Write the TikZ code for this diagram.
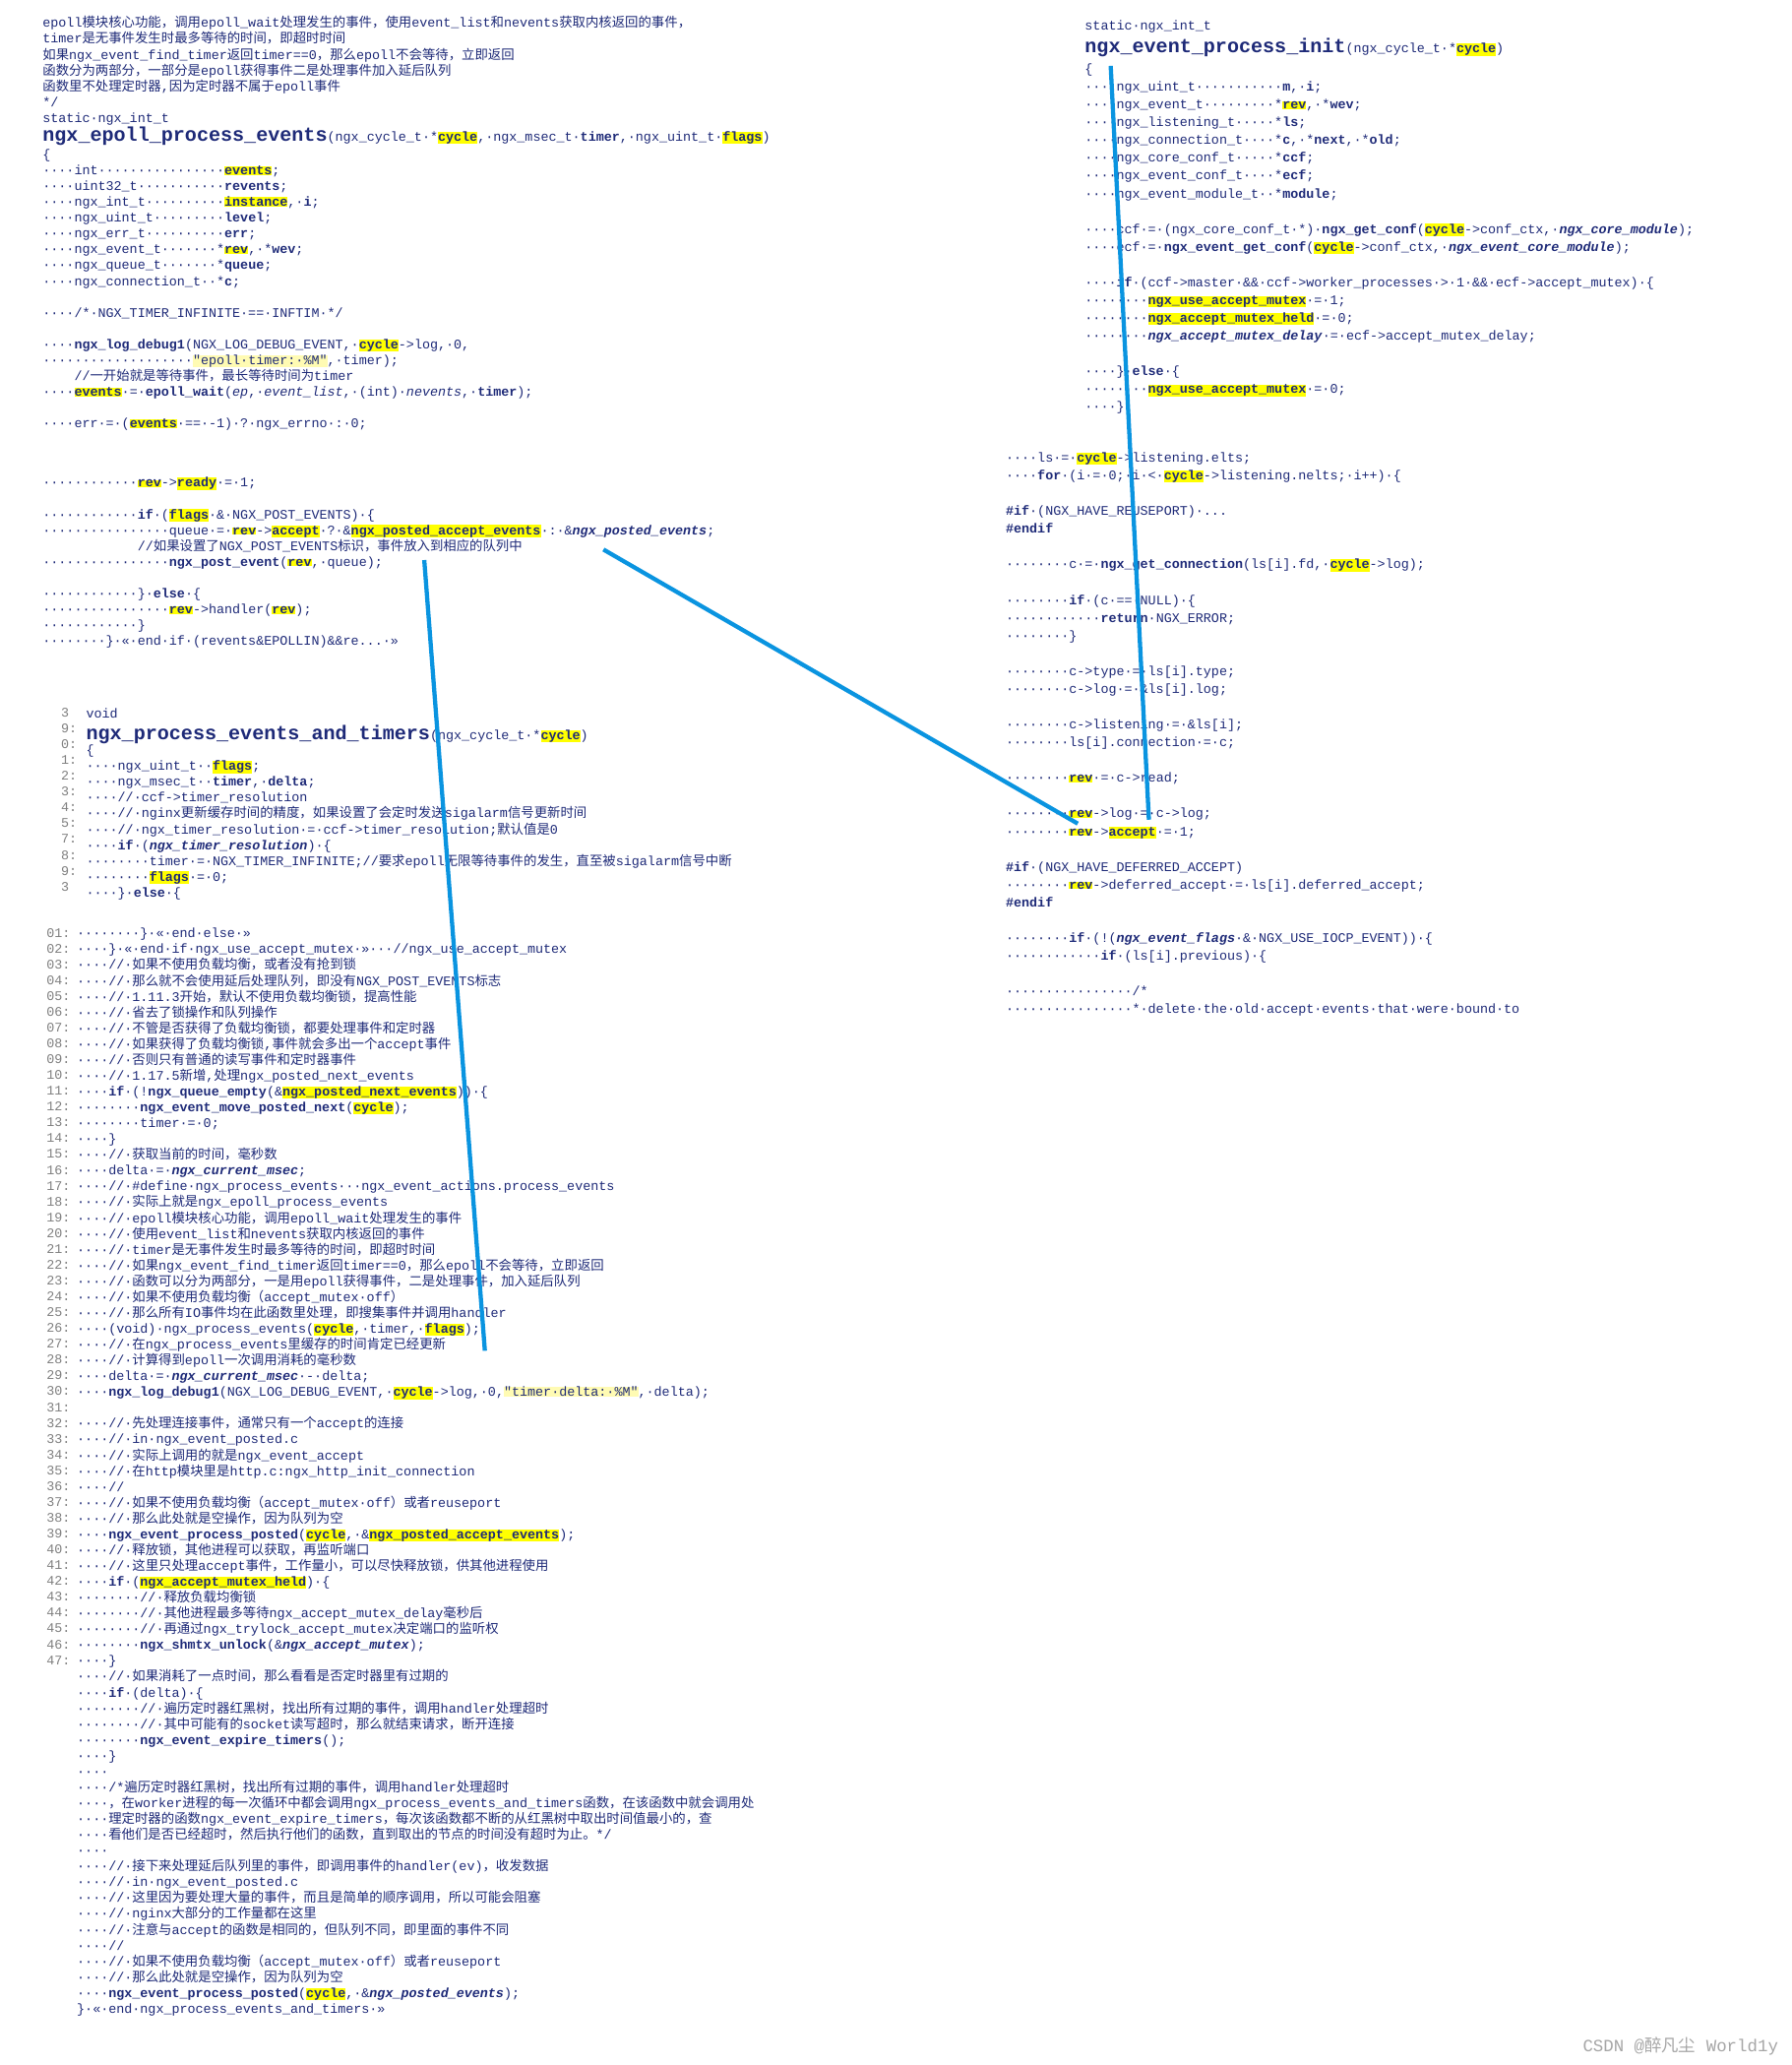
\documentclass[tikz,border=0pt]{standalone}
\usepackage{fontspec}
\usepackage{xcolor}
\newfontfamily\code{Liberation Mono}
\newfontfamily\cjkfont{Noto Sans CJK SC}
\definecolor{codecol}{HTML}{1E2A78}
\definecolor{linkblue}{HTML}{0A94E0}
\definecolor{hly}{HTML}{FFFF00}
\setlength{\fboxsep}{0pt}
\newcommand\hl[1]{\colorbox{hly}{\textbf{#1}}}
\newcommand\kw[1]{\textbf{#1}}
\newcommand\fname[1]{{\fontsize{7.5}{8}\selectfont\textbf{#1}}}
\XeTeXinterchartokenstate=1
\newXeTeXintercharclass\CJKclass
\count255="4E00 \loop \XeTeXcharclass\count255=\CJKclass \advance\count255 1 \ifnum\count255<"A000 \repeat
\count255="3000 \loop \XeTeXcharclass\count255=\CJKclass \advance\count255 1 \ifnum\count255<"3040 \repeat
\count255="FF00 \loop \XeTeXcharclass\count255=\CJKclass \advance\count255 1 \ifnum\count255<"FFF0 \repeat
\XeTeXinterchartoks 0 \CJKclass = {\cjkfont}
\XeTeXinterchartoks 4095 \CJKclass = {\cjkfont}
\XeTeXinterchartoks \CJKclass 0 = {\code}
\XeTeXinterchartoks \CJKclass 4095 = {\code}
\tikzset{
 code/.style={anchor=north west, inner sep=0pt, align=left, text=codecol,
   font=\code\fontsize{5}{6}\selectfont},
 codew/.style={code, font=\code\fontsize{5}{6.75}\selectfont},
 nums/.style={code, text=gray},
 link/.style={draw=linkblue, line width=1.6pt},
}
\begin{document}
\catcode`\_=12 \catcode`\&=12
\begin{tikzpicture}[x=0.5pt,y=-0.5pt]
\useasboundingbox (0,0) rectangle (1360,1567);
\fill[white] (0,0) rectangle (1360,1567);

% ---------- block A: epoll header
\node[code] (a1) at (32,12) {epoll模块核心功能，调用epoll_wait处理发生的事件，使用event_list和nevents获取内核返回的事件，\\
timer是无事件发生时最多等待的时间，即超时时间\\
如果ngx_event_find_timer返回timer==0，那么epoll不会等待，立即返回\\
函数分为两部分，一部分是epoll获得事件二是处理事件加入延后队列\\
函数里不处理定时器,因为定时器不属于epoll事件\\
*/\\
static·ngx_int_t};
\node[code] (a2) at (32,96) {\fname{ngx_epoll_process_events}(ngx_cycle_t·*\hl{cycle},·ngx_msec_t·\kw{timer},·ngx_uint_t·\hl{flags})};
\node[code] (a3) at (32,113) {\{\\
····int················\hl{events};\\
····uint32_t···········\kw{revents};\\
····ngx_int_t··········\hl{instance},·\kw{i};\\
····ngx_uint_t·········\kw{level};\\
····ngx_err_t··········\kw{err};\\
····ngx_event_t·······*\hl{rev},·*\kw{wev};\\
····ngx_queue_t·······*\kw{queue};\\
····ngx_connection_t··*\kw{c};\\
\mbox{}\\
····/*·NGX_TIMER_INFINITE·==·INFTIM·*/\\
\mbox{}\\
····\kw{ngx_log_debug1}(NGX_LOG_DEBUG_EVENT,·\hl{cycle}->log,·0,\\
···················\colorbox{yellow!30}{"epoll·timer:·\%M"},·timer);\\
\ \ \ \ //一开始就是等待事件，最长等待时间为timer\\
····\hl{events}·=·\kw{epoll_wait}(\textit{ep},·\textit{event_list},·(int)·\textit{nevents},·\kw{timer});\\
\mbox{}\\
····err·=·(\hl{events}·==·-1)·?·ngx_errno·:·0;};

% ---------- block B
\node[code] (b1) at (32,362) {············\hl{rev}->\hl{ready}·=·1;\\
\mbox{}\\
············\kw{if}·(\hl{flags}·\&·NGX_POST_EVENTS)·\{\\
················queue·=·\hl{rev}->\hl{accept}·?·\&\hl{ngx_posted_accept_events}·:·\&\textit{\kw{ngx_posted_events}};\\
\ \ \ \ \ \ \ \ \ \ \ \ //如果设置了NGX_POST_EVENTS标识，事件放入到相应的队列中\\
················\kw{ngx_post_event}(\hl{rev},·queue);\\
\mbox{}\\
············\}·\kw{else}·\{\\
················\hl{rev}->handler(\hl{rev});\\
············\}\\
········\}·«·end·if·(revents\&EPOLLIN)\&\&re...·»};

% ---------- block C
\node[code] (c1) at (65,537) {void};
\node[code] (c2) at (65,550) {\fname{ngx_process_events_and_timers}(ngx_cycle_t·*\hl{cycle})};
\node[code] (c3) at (65,565) {\{\\
····ngx_uint_t··\hl{flags};\\
····ngx_msec_t··\kw{timer},·\kw{delta};\\
····//·ccf->timer_resolution\\
····//·nginx更新缓存时间的精度，如果设置了会定时发送sigalarm信号更新时间\\
····//·ngx_timer_resolution·=·ccf->timer_resolution;默认值是0\\
····\kw{if}·(\textit{\kw{ngx_timer_resolution}})·\{\\
········timer·=·NGX_TIMER_INFINITE;//要求epoll无限等待事件的发生，直至被sigalarm信号中断\\
········\hl{flags}·=·0;\\
····\}·\kw{else}·\{};
\node[nums] (cn) at (46,537) {3\\ 9:\\ 0:\\ 1:\\ 2:\\ 3:\\ 4:\\ 5:\\ 7:\\ 8:\\ 9:\\ 3};

% ---------- block D
\node[nums] (dn) at (35,704) {01:\\02:\\03:\\04:\\05:\\06:\\07:\\08:\\09:\\10:\\11:\\12:\\13:\\14:\\15:\\16:\\17:\\18:\\19:\\20:\\21:\\22:\\23:\\24:\\25:\\26:\\27:\\28:\\29:\\30:\\31:\\32:\\33:\\34:\\35:\\36:\\37:\\38:\\39:\\40:\\41:\\42:\\43:\\44:\\45:\\46:\\47:};
\node[code] (d1) at (58,704) {········\}·«·end·else·»\\
····\}·«·end·if·ngx_use_accept_mutex·»···//ngx_use_accept_mutex\\
····//·如果不使用负载均衡，或者没有抢到锁\\
····//·那么就不会使用延后处理队列，即没有NGX_POST_EVENTS标志\\
····//·1.11.3开始，默认不使用负载均衡锁，提高性能\\
····//·省去了锁操作和队列操作\\
····//·不管是否获得了负载均衡锁，都要处理事件和定时器\\
····//·如果获得了负载均衡锁,事件就会多出一个accept事件\\
····//·否则只有普通的读写事件和定时器事件\\
····//·1.17.5新增,处理ngx_posted_next_events\\
····\kw{if}·(!\kw{ngx_queue_empty}(\&\hl{ngx_posted_next_events}))·\{\\
········\kw{ngx_event_move_posted_next}(\hl{cycle});\\
········timer·=·0;\\
····\}\\
····//·获取当前的时间，毫秒数\\
····delta·=·\textit{\kw{ngx_current_msec}};\\
····//·\#define·ngx_process_events···ngx_event_actions.process_events\\
····//·实际上就是ngx_epoll_process_events\\
····//·epoll模块核心功能，调用epoll_wait处理发生的事件\\
····//·使用event_list和nevents获取内核返回的事件\\
····//·timer是无事件发生时最多等待的时间，即超时时间\\
····//·如果ngx_event_find_timer返回timer==0，那么epoll不会等待，立即返回\\
····//·函数可以分为两部分，一是用epoll获得事件，二是处理事件，加入延后队列\\
····//·如果不使用负载均衡（accept_mutex·off）\\
····//·那么所有IO事件均在此函数里处理，即搜集事件并调用handler\\
····(void)·ngx_process_events(\hl{cycle},·timer,·\hl{flags});\\
····//·在ngx_process_events里缓存的时间肯定已经更新\\
····//·计算得到epoll一次调用消耗的毫秒数\\
····delta·=·\textit{\kw{ngx_current_msec}}·-·delta;\\
····\kw{ngx_log_debug1}(NGX_LOG_DEBUG_EVENT,·\hl{cycle}->log,·0,\colorbox{yellow!30}{"timer·delta:·\%M"},·delta);\\
\mbox{}\\
····//·先处理连接事件，通常只有一个accept的连接\\
····//·in·ngx_event_posted.c\\
····//·实际上调用的就是ngx_event_accept\\
····//·在http模块里是http.c:ngx_http_init_connection\\
····//\\
····//·如果不使用负载均衡（accept_mutex·off）或者reuseport\\
····//·那么此处就是空操作，因为队列为空\\
····\kw{ngx_event_process_posted}(\hl{cycle},·\&\hl{ngx_posted_accept_events});\\
····//·释放锁，其他进程可以获取，再监听端口\\
····//·这里只处理accept事件，工作量小，可以尽快释放锁，供其他进程使用\\
····\kw{if}·(\hl{ngx_accept_mutex_held})·\{\\
········//·释放负载均衡锁\\
········//·其他进程最多等待ngx_accept_mutex_delay毫秒后\\
········//·再通过ngx_trylock_accept_mutex决定端口的监听权\\
········\kw{ngx_shmtx_unlock}(\&\textit{\kw{ngx_accept_mutex}});\\
····\}\\
····//·如果消耗了一点时间，那么看看是否定时器里有过期的\\
····\kw{if}·(delta)·\{\\
········//·遍历定时器红黑树，找出所有过期的事件，调用handler处理超时\\
········//·其中可能有的socket读写超时，那么就结束请求，断开连接\\
········\kw{ngx_event_expire_timers}();\\
····\}\\
····\\
····/*遍历定时器红黑树，找出所有过期的事件，调用handler处理超时\\
····，在worker进程的每一次循环中都会调用ngx_process_events_and_timers函数，在该函数中就会调用处\\
····理定时器的函数ngx_event_expire_timers，每次该函数都不断的从红黑树中取出时间值最小的，查\\
····看他们是否已经超时，然后执行他们的函数，直到取出的节点的时间没有超时为止。*/\\
····\\
····//·接下来处理延后队列里的事件，即调用事件的handler(ev)，收发数据\\
····//·in·ngx_event_posted.c\\
····//·这里因为要处理大量的事件，而且是简单的顺序调用，所以可能会阻塞\\
····//·nginx大部分的工作量都在这里\\
····//·注意与accept的函数是相同的，但队列不同，即里面的事件不同\\
····//\\
····//·如果不使用负载均衡（accept_mutex·off）或者reuseport\\
····//·那么此处就是空操作，因为队列为空\\
····\kw{ngx_event_process_posted}(\hl{cycle},·\&\textit{\kw{ngx_posted_events}});\\
\}·«·end·ngx_process_events_and_timers·»};

% ---------- block E
\node[code] (e1) at (823,15) {static·ngx_int_t};
\node[code] (e2) at (823,29) {\fname{ngx_event_process_init}(ngx_cycle_t·*\hl{cycle})};
\node[codew] (e3) at (823,48) {\{\\
····ngx_uint_t···········\kw{m},·\kw{i};\\
····ngx_event_t·········*\hl{rev},·*\kw{wev};\\
····ngx_listening_t·····*\kw{ls};\\
····ngx_connection_t····*\kw{c},·*\kw{next},·*\kw{old};\\
····ngx_core_conf_t·····*\kw{ccf};\\
····ngx_event_conf_t····*\kw{ecf};\\
····ngx_event_module_t··*\kw{module};\\
\mbox{}\\
····ccf·=·(ngx_core_conf_t·*)·\kw{ngx_get_conf}(\hl{cycle}->conf_ctx,·\textit{\kw{ngx_core_module}});\\
····ecf·=·\kw{ngx_event_get_conf}(\hl{cycle}->conf_ctx,·\textit{\kw{ngx_event_core_module}});\\
\mbox{}\\
····\kw{if}·(ccf->master·\&\&·ccf->worker_processes·>·1·\&\&·ecf->accept_mutex)·\{\\
········\hl{ngx_use_accept_mutex}·=·1;\\
········\hl{ngx_accept_mutex_held}·=·0;\\
········\textit{\kw{ngx_accept_mutex_delay}}·=·ecf->accept_mutex_delay;\\
\mbox{}\\
····\}·\kw{else}·\{\\
········\hl{ngx_use_accept_mutex}·=·0;\\
····\}};

% ---------- block F
\node[codew] (f1) at (763,343) {····ls·=·\hl{cycle}->listening.elts;\\
····\kw{for}·(i·=·0;·i·<·\hl{cycle}->listening.nelts;·i++)·\{\\
\mbox{}\\
\kw{\#if}·(NGX_HAVE_REUSEPORT)·...\\
\kw{\#endif}\\
\mbox{}\\
········c·=·\kw{ngx_get_connection}(ls[i].fd,·\hl{cycle}->log);\\
\mbox{}\\
········\kw{if}·(c·==·NULL)·\{\\
············\kw{return}·NGX_ERROR;\\
········\}\\
\mbox{}\\
········c->type·=·ls[i].type;\\
········c->log·=·\&ls[i].log;\\
\mbox{}\\
········c->listening·=·\&ls[i];\\
········ls[i].connection·=·c;\\
\mbox{}\\
········\hl{rev}·=·c->read;\\
\mbox{}\\
········\hl{rev}->log·=·c->log;\\
········\hl{rev}->\hl{accept}·=·1;\\
\mbox{}\\
\kw{\#if}·(NGX_HAVE_DEFERRED_ACCEPT)\\
········\hl{rev}->deferred_accept·=·ls[i].deferred_accept;\\
\kw{\#endif}\\
\mbox{}\\
········\kw{if}·(!(\textit{\kw{ngx_event_flags}}·\&·NGX_USE_IOCP_EVENT))·\{\\
············\kw{if}·(ls[i].previous)·\{\\
\mbox{}\\
················/*\\
················*·delete·the·old·accept·events·that·were·bound·to};

% watermark
\node[anchor=east, inner sep=0pt, text=gray!70, font=\fontsize{6.5}{7}\selectfont] (wm) at (1350,1553) {\code CSDN @\cjkfont 醉凡尘\code{} World1y};

% ---------- blue connectors
\coordinate (p1a) at (843,50);  \coordinate (p1b) at (872,622);
\coordinate (p2a) at (322,425); \coordinate (p2b) at (368,1025);
\coordinate (p3a) at (458,417); \coordinate (p3b) at (818,625);
\draw[link] (p1a) -- (p1b);
\draw[link] (p2a) -- (p2b);
\draw[link] (p3a) -- (p3b);
\end{tikzpicture}
\end{document}
